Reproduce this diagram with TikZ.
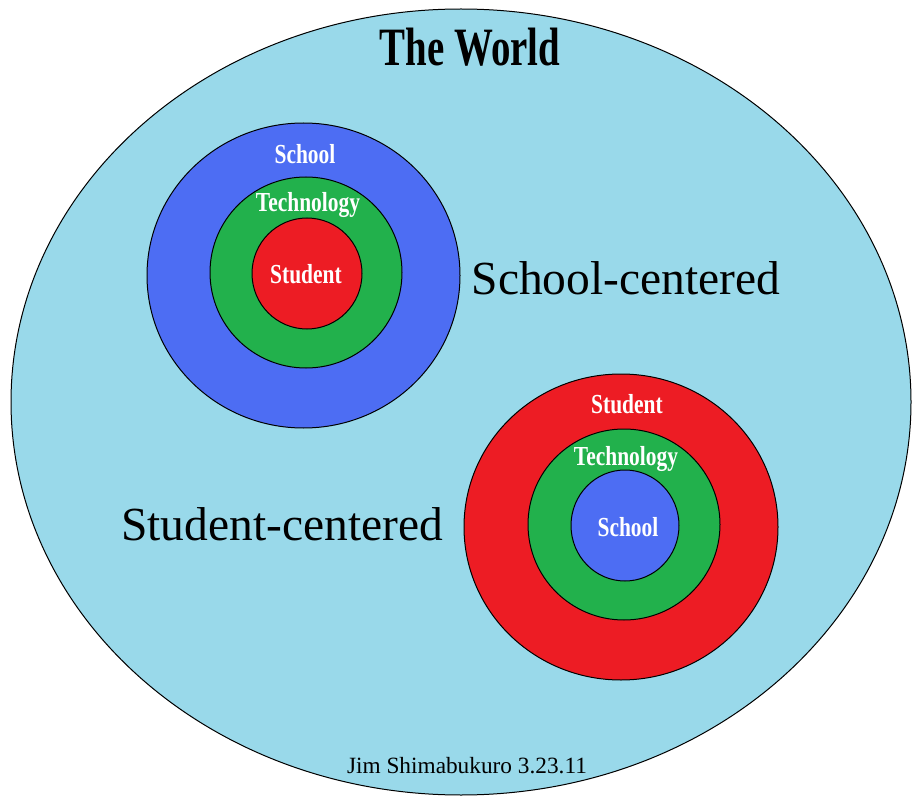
\documentclass[tikz,border=0pt]{standalone}
\usepackage{fontspec}
\setmainfont{Liberation Serif}
\usetikzlibrary{shapes.geometric}
\definecolor{world}{RGB}{153,217,234}
\definecolor{pblue}{RGB}{77,109,243}
\definecolor{pgreen}{RGB}{34,177,76}
\definecolor{pred}{RGB}{237,28,36}
\tikzset{
  ring/.style={ellipse, draw=black, line width=1pt, inner sep=0pt},
  lab/.style={text=white, font=\bfseries\fontsize{27.5}{29}\selectfont, xscale=0.78, inner sep=0pt},
  big/.style={font=\fontsize{47.5}{50}\selectfont, inner sep=0pt},
}
\begin{document}
\begin{tikzpicture}[x=1pt,y=-1pt]
\useasboundingbox (0,0) rectangle (921,802);
\fill[white] (0,0) rectangle (921,802);
\node[ring, fill=world, minimum width=900pt, minimum height=786pt] (world) at (461,402) {};
\node[font=\bfseries\fontsize{54}{56}\selectfont, xscale=0.72, inner sep=0pt] (title) at (470,47) {The World};
% school-centered
\node[ring, fill=pblue, minimum width=313pt, minimum height=305pt] (s1) at (303.5,275.5) {};
\node[ring, fill=pgreen, minimum width=192pt, minimum height=191pt] (t1) at (306,272.5) {};
\node[ring, fill=pred, minimum width=110pt, minimum height=111pt] (u1) at (307,273.5) {};
\node[lab] (s1l) at (305,154) {School};
\node[lab] (t1l) at (308,205) {Technology};
\node[lab] (u1l) at (306,274) {Student};
\node[big] (sc) at (626,278) {School-centered};
% student-centered
\node[ring, fill=pred, minimum width=314pt, minimum height=306pt] (u2) at (621,527) {};
\node[ring, fill=pgreen, minimum width=192pt, minimum height=191pt] (t2) at (624,524.5) {};
\node[ring, fill=pblue, minimum width=108pt, minimum height=111pt] (s2) at (625,525.5) {};
\node[lab] (u2l) at (627,404) {Student};
\node[lab] (t2l) at (626,459) {Technology};
\node[lab] (s2l) at (628,527) {School};
\node[big] (stc) at (282,524) {Student-centered};
\node[font=\fontsize{23.3}{25}\selectfont, inner sep=0pt] (auth) at (467,766) {Jim Shimabukuro 3.23.11};
\end{tikzpicture}
\end{document}
